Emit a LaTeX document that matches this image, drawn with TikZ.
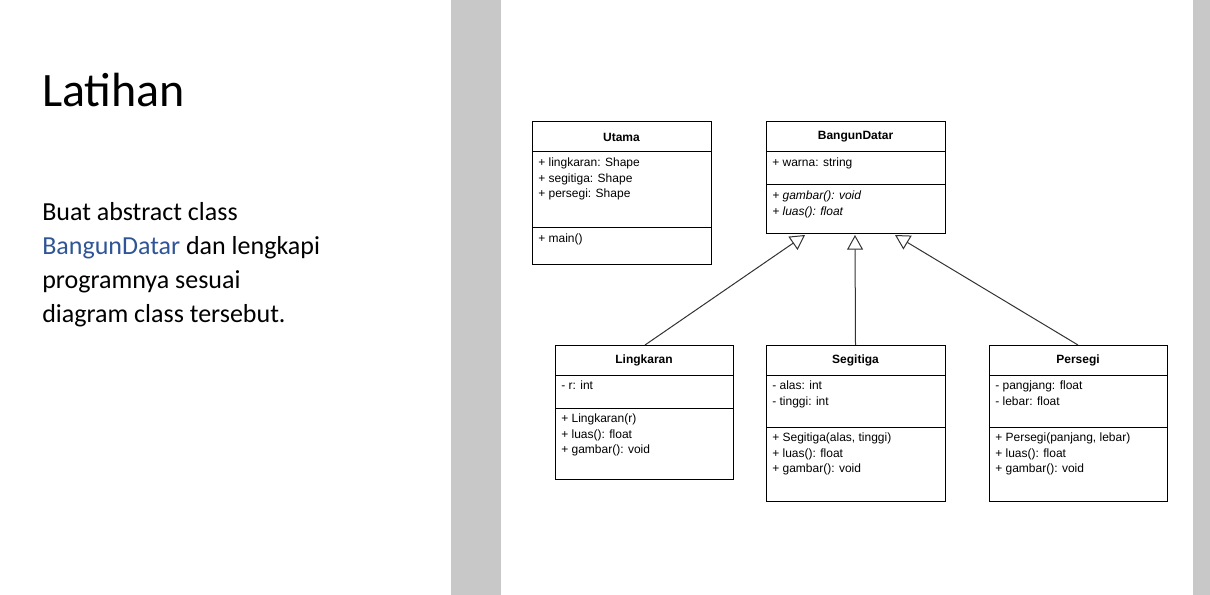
\documentclass[tikz,border=0pt]{standalone}
\usepackage{fontspec}
\setmainfont{Liberation Sans}
\newfontfamily\calfont{Carlito}
\usetikzlibrary{arrows.meta}
\definecolor{bdblue}{RGB}{47,85,151}
\definecolor{strip}{RGB}{200,200,200}
\tikzset{
  box/.style={draw=black,line width=0.75pt,fill=white},
  hdr/.style={font=\fontsize{9}{10}\selectfont\bfseries,anchor=center},
  txt/.style={font=\fontsize{9}{11.5}\selectfont,anchor=north west,align=left,inner sep=0pt},
  inh/.style={draw=black!80,line width=0.75pt,-{Triangle[open,length=11pt,width=12pt]}}
}
\newcommand{\umlclass}[9]{%
 \draw[box] (#2,#3) rectangle (#4,#5);
 \draw[line width=0.75pt] (#2,#3+30) -- (#4,#3+30);
 \draw[line width=0.75pt] (#2,#6) -- (#4,#6);
 \coordinate (#1-top) at ({(#2+#4)/2},#3);
 \node[hdr] (#1-name) at ({(#2+#4)/2},#3+15) {#1};
 \node[txt] (#1-attr) at (#2+6,#3+36) {#8};
 \node[txt] (#1-meth) at (#2+6,#6+6) {#9};
}
\begin{document}
\begin{tikzpicture}[x=0.75pt,y=-0.75pt]
\useasboundingbox (0,0) rectangle (1210,595);
\fill[strip] (451,0) rectangle (501,595);
\fill[strip] (1193,0) rectangle (1210,595);
\node[anchor=west,inner sep=0pt,font=\calfont\fontsize{36}{40}\selectfont] (title) at (42,90) {Latihan};
\node[anchor=north west,inner sep=0pt,align=left,font=\calfont\fontsize{19.5}{25.5}\selectfont] (body) at (42,202) {Buat abstract class\\\textcolor{bdblue}{BangunDatar} dan lengkapi\\programnya sesuai\\diagram class tersebut.};
\umlclass{Utama}{532}{122}{711}{265}{228}{}{+ lingkaran: Shape\\+ segitiga: Shape\\+ persegi: Shape}{+ main()}
\umlclass{BangunDatar}{766}{122}{945}{234}{185}{}{+ warna: string}{\textit{+ gambar(): void}\\\textit{+ luas(): float}}
\umlclass{Lingkaran}{555}{345}{733}{479}{408}{}{- r: int}{+ Lingkaran(r)\\+ luas(): float\\+ gambar(): void}
\umlclass{Segitiga}{766}{345}{945}{501}{427}{}{- alas: int\\- tinggi: int}{+ Segitiga(alas, tinggi)\\+ luas(): float\\+ gambar(): void}
\umlclass{Persegi}{989}{345}{1167}{501}{427}{}{- pangjang: float\\- lebar: float}{+ Persegi(panjang, lebar)\\+ luas(): float\\+ gambar(): void}
\coordinate (bdL) at (805,235);
\coordinate (bdM) at (855,235);
\coordinate (bdR) at (895,235);
\coordinate (lkT) at (645,345);
\coordinate (psT) at (1078,345);
\draw[inh] (lkT) -- (bdL);
\draw[inh] (Segitiga-top) -- (bdM);
\draw[inh] (psT) -- (bdR);
\end{tikzpicture}
\end{document}
